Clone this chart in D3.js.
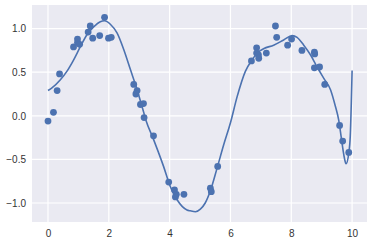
<!DOCTYPE html>
<html>
<head>
<meta charset="utf-8">
<script src="https://cdn.jsdelivr.net/npm/d3@7"></script>
<style>
  body { margin: 0; background: #fff; }
  text { font-family: "Liberation Sans", Arial, sans-serif; }
</style>
</head>
<body>
<div id="chart"></div>
<script>
// scatter samples
const pointX = [0.00, 0.18, 0.30, 0.38, 0.84, 0.97, 0.97, 1.04, 1.32, 1.39, 1.47, 1.70, 1.86, 1.99, 2.08,
  2.82, 2.93, 2.89, 3.04, 3.14, 3.16, 3.47, 3.97, 4.16, 4.19, 4.22, 4.47, 5.34, 5.37, 5.58,
  6.69, 6.86, 6.86, 6.92, 6.93, 7.18, 7.48, 7.52, 7.88, 8.01, 8.35, 8.76, 8.77, 8.76, 8.93, 9.10,
  9.59, 9.69, 9.89];
const pointY = [-0.06, 0.04, 0.29, 0.48, 0.79, 0.88, 0.84, 0.82, 0.96, 1.03, 0.89, 0.92, 1.13, 0.89, 0.90,
  0.36, 0.29, 0.25, 0.13, 0.14, -0.02, -0.23, -0.76, -0.85, -0.93, -0.90, -0.90, -0.83, -0.87, -0.58,
  0.63, 0.78, 0.72, 0.70, 0.66, 0.72, 1.03, 0.90, 0.81, 0.88, 0.75, 0.73, 0.71, 0.55, 0.56, 0.36,
  -0.11, -0.29, -0.42];

// fitted curve
const fitX = [0.00, 0.13, 0.40, 0.62, 0.84, 1.06, 1.28, 1.50, 1.72, 1.86, 2.05, 2.27, 2.49, 2.71, 2.93,
  3.09, 3.22, 3.47, 3.80, 4.02, 4.24, 4.57, 4.68, 4.85, 5.01, 5.17, 5.34, 5.56, 5.78, 6.00,
  6.22, 6.49, 6.71, 6.88, 7.09, 7.42, 7.75, 8.03, 8.19, 8.41, 8.63, 8.85, 9.07, 9.29, 9.45,
  9.56, 9.64, 9.71, 9.75, 9.80, 9.89, 9.94, 10.00];
const fitY = [0.29, 0.32, 0.41, 0.51, 0.64, 0.79, 0.93, 1.02, 1.08, 1.09, 1.05, 0.95, 0.76, 0.53, 0.30,
  0.11, -0.05, -0.27, -0.58, -0.81, -0.96, -1.08, -1.09, -1.10, -1.07, -1.00, -0.86, -0.60, -0.33, -0.08,
  0.22, 0.51, 0.64, 0.72, 0.77, 0.81, 0.87, 0.92, 0.90, 0.81, 0.70, 0.56, 0.43, 0.30, 0.11,
  -0.05, -0.24, -0.41, -0.49, -0.55, -0.43, -0.23, 0.52];

const xTicks = [0, 2, 4, 6, 8, 10];
const yTicks = [-1.0, -0.5, 0.0, 0.5, 1.0];

const width = 379, height = 246;
const margin = {top: 5, right: 12, bottom: 24, left: 32};
const w = width - margin.left - margin.right;
const h = height - margin.top - margin.bottom;
const blue = "#4C72B0";

const svg = d3.select("#chart").append("svg")
  .attr("width", width)
  .attr("height", height);

const g = svg.append("g")
  .attr("transform", "translate(" + margin.left + "," + margin.top + ")");

const x = d3.scaleLinear().domain([-0.526, 10.49]).range([0, w]);
const y = d3.scaleLinear().domain([-1.218, 1.271]).range([h, 0]);

g.append("rect")
  .attr("width", w)
  .attr("height", h)
  .attr("fill", "#EAEAF2");

// grid
g.selectAll(".gx").data(xTicks).join("line")
  .attr("x1", d => x(d)).attr("x2", d => x(d))
  .attr("y1", 0).attr("y2", h)
  .attr("stroke", "#fff").attr("stroke-width", 1.2);
g.selectAll(".gy").data(yTicks).join("line")
  .attr("y1", d => y(d)).attr("y2", d => y(d))
  .attr("x1", 0).attr("x2", w)
  .attr("stroke", "#fff").attr("stroke-width", 1.2);

// axes (labels only, seaborn style)
const xAxis = g.append("g")
  .attr("transform", "translate(0," + h + ")")
  .call(d3.axisBottom(x).tickValues(xTicks).tickSize(0).tickPadding(8).tickFormat(d3.format("d")));
const yAxis = g.append("g")
  .call(d3.axisLeft(y).tickValues(yTicks).tickSize(0).tickPadding(6)
    .tickFormat(d => d3.format(".1f")(d).replace("-", "\u2212")));
[xAxis, yAxis].forEach(a => {
  a.select(".domain").remove();
  a.selectAll("text").attr("fill", "#333").style("font-size", "10px");
});

// fit line
const pts = d3.zip(fitX, fitY);
g.append("path")
  .datum(pts)
  .attr("fill", "none")
  .attr("stroke", blue)
  .attr("stroke-width", 1.6)
  .attr("d", d3.line().x(d => x(d[0])).y(d => y(d[1])).curve(d3.curveMonotoneX));

// scatter
g.selectAll(".pt").data(d3.zip(pointX, pointY)).join("circle")
  .attr("cx", d => x(d[0]))
  .attr("cy", d => y(d[1]))
  .attr("r", 3.4)
  .attr("fill", blue);
</script>
</body>
</html>
